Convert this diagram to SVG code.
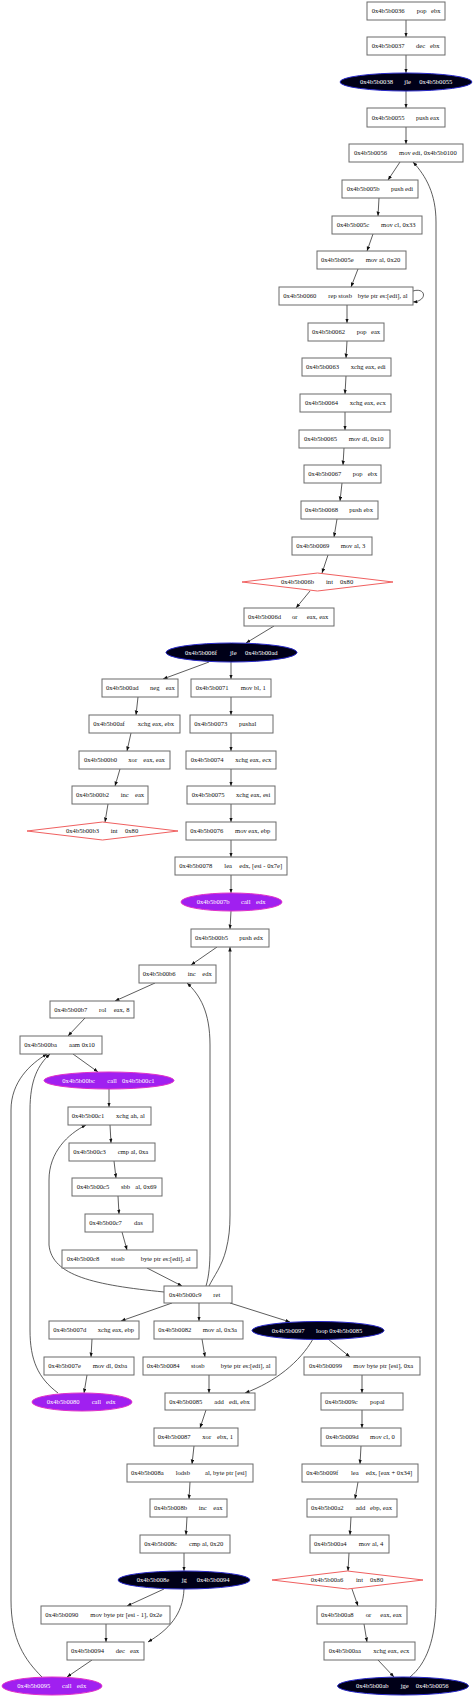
<svg xmlns="http://www.w3.org/2000/svg" width="474" height="1698" viewBox="0 0 474 1698">
<defs>
<marker id="ah" markerUnits="userSpaceOnUse" markerWidth="5" markerHeight="4" refX="4.5" refY="1.75" orient="auto">
<path d="M0,0 L4.5,1.75 L0,3.5 z" fill="#111"/>
</marker>
</defs>
<style>
rect{fill:#fff;stroke:#6a6a6a;stroke-width:1}
.dk ellipse{fill:#000018;stroke:#2828c8;stroke-width:1}
.pu ellipse{fill:#a020f0;stroke:#e030c8;stroke-width:1}
polygon{fill:#fff;stroke:#f06060;stroke-width:1}
text{font-family:"Liberation Serif","DejaVu Serif",serif;font-size:6.6px;fill:#111}
.dk text,.pu text{fill:#fff}
#edges path{fill:none;stroke:#333;stroke-width:0.8;marker-end:url(#ah)}
</style>
<rect x="0" y="0" width="474" height="1698" style="fill:#fff;stroke:none"/>
<g id="edges">
<path d="M406,20 L406,37"/>
<path d="M406,55 L406,73"/>
<path d="M406,91 L406,108"/>
<path d="M406,127 L406,144"/>
<path d="M400,162 L388,180"/>
<path d="M379,198 L378,216"/>
<path d="M373,234 L367,251"/>
<path d="M358,269 L351,287"/>
<path d="M413,291 C426,287 428,301 413,302"/>
<path d="M347,305 L347,323"/>
<path d="M347,341 L346,358"/>
<path d="M346,376 L345,394"/>
<path d="M345,412 L345,430"/>
<path d="M344,448 L343,465"/>
<path d="M342,483 L340,501"/>
<path d="M337,519 L334,537"/>
<path d="M328,555 L322,573"/>
<path d="M310,591 L296,608"/>
<path d="M274,626 L246,643"/>
<path d="M209,662 L163,679"/>
<path d="M231,662 L231,679"/>
<path d="M138,697 L136,715"/>
<path d="M231,697 L231,715"/>
<path d="M131,733 L127,751"/>
<path d="M231,733 L231,751"/>
<path d="M120,769 L115,786"/>
<path d="M231,769 L231,786"/>
<path d="M108,804 L105,822"/>
<path d="M231,804 L231,822"/>
<path d="M231,840 L231,857"/>
<path d="M231,875 L231,893"/>
<path d="M231,911 L230,929"/>
<path d="M217,947 L191,965"/>
<path d="M155,983 L115,1001"/>
<path d="M85,1018 L68,1036"/>
<path d="M73,1054 L98,1072"/>
<path d="M109,1089 L109,1107"/>
<path d="M110,1125 L111,1143"/>
<path d="M114,1161 L116,1178"/>
<path d="M118,1196 L119,1214"/>
<path d="M122,1232 L127,1250"/>
<path d="M147,1268 L182,1286"/>
<path d="M164,1292 C95,1285 52,1276 49,1245 L49,1180 C49,1152 68,1134 86,1125"/>
<path d="M206,1286 C209,1276 210,1264 210,1250 L210,1045 C210,1012 200,995 187,983"/>
<path d="M209,1286 C214,1276 222,1266 226,1250 C229,1238 230,1228 230,1215 L230,947"/>
<path d="M172,1303 L121,1321"/>
<path d="M199,1303 L199,1321"/>
<path d="M230,1303 L290,1322"/>
<path d="M313,1339 C300,1362 275,1382 245,1393"/>
<path d="M328,1339 L350,1357"/>
<path d="M92,1339 L91,1357"/>
<path d="M202,1339 L205,1357"/>
<path d="M87,1375 L84,1393"/>
<path d="M209,1375 L209,1393"/>
<path d="M362,1375 L362,1393"/>
<path d="M58,1393 C38,1378 30,1360 30,1330 L30,1110 C30,1080 38,1065 50,1054"/>
<path d="M42,1677 C25,1660 11,1640 11,1600 L11,1110 C11,1082 30,1064 47,1054"/>
<path d="M206,1410 L200,1428"/>
<path d="M362,1410 L362,1428"/>
<path d="M194,1446 L192,1464"/>
<path d="M361,1446 L360,1464"/>
<path d="M190,1482 L189,1499"/>
<path d="M358,1482 L355,1499"/>
<path d="M187,1517 L186,1535"/>
<path d="M351,1517 L350,1535"/>
<path d="M184,1553 L184,1571"/>
<path d="M349,1553 L348,1571"/>
<path d="M164,1589 L127,1606"/>
<path d="M184,1589 C183,1615 168,1630 148,1642"/>
<path d="M352,1589 L358,1606"/>
<path d="M106,1624 L106,1642"/>
<path d="M364,1624 L367,1642"/>
<path d="M92,1660 L67,1677"/>
<path d="M378,1660 L394,1677"/>
<path d="M410,1677 C426,1664 436,1640 436,1600 L436,222 C436,194 426,176 413,162"/>
</g>
<g id="n0036"><rect x="367" y="2" width="78" height="18"/><text y="13.3"><tspan x="371.7">0x4b5b0036</tspan><tspan x="416.7">pop</tspan><tspan x="431">ebx</tspan></text></g>
<g id="n0037"><rect x="367" y="37" width="78" height="18"/><text y="48.3"><tspan x="371.7">0x4b5b0037</tspan><tspan x="416">dec</tspan><tspan x="430">ebx</tspan></text></g>
<g id="n0038" class="dk"><ellipse cx="406" cy="82" rx="66" ry="9"/><text y="84.3"><tspan x="360">0x4b5b0038</tspan><tspan x="404.3">jle</tspan><tspan x="419.3">0x4b5b0055</tspan></text></g>
<g id="n0055"><rect x="367" y="108" width="78" height="19"/><text y="119.8"><tspan x="371.7">0x4b5b0055</tspan><tspan x="416">push eax</tspan></text></g>
<g id="n0056"><rect x="349" y="144" width="114" height="18"/><text y="155.3"><tspan x="354">0x4b5b0056</tspan><tspan x="399">mov edi, 0x4b5b0100</tspan></text></g>
<g id="n005b"><rect x="342" y="180" width="76" height="18"/><text y="191.3"><tspan x="346.7">0x4b5b005b</tspan><tspan x="391">push edi</tspan></text></g>
<g id="n005c"><rect x="332" y="216" width="90" height="18"/><text y="227.3"><tspan x="336.7">0x4b5b005c</tspan><tspan x="381">mov cl, 0x33</tspan></text></g>
<g id="n005e"><rect x="317" y="251" width="89" height="18"/><text y="262.3"><tspan x="321">0x4b5b005e</tspan><tspan x="365.7">mov al, 0x20</tspan></text></g>
<g id="n0060"><rect x="279" y="287" width="134" height="18"/><text y="298.3"><tspan x="283.3">0x4b5b0060</tspan><tspan x="328.3">rep stosb</tspan><tspan x="357.7">byte ptr es:[edi], al</tspan></text></g>
<g id="n0062"><rect x="308" y="323" width="76" height="18"/><text y="334.3"><tspan x="312">0x4b5b0062</tspan><tspan x="356.7">pop</tspan><tspan x="371">eax</tspan></text></g>
<g id="n0063"><rect x="302" y="358" width="89" height="18"/><text y="369.3"><tspan x="306">0x4b5b0063</tspan><tspan x="350.7">xchg eax, edi</tspan></text></g>
<g id="n0064"><rect x="300" y="394" width="91" height="18"/><text y="405.3"><tspan x="305">0x4b5b0064</tspan><tspan x="349.7">xchg eax, ecx</tspan></text></g>
<g id="n0065"><rect x="299" y="430" width="91" height="18"/><text y="441.3"><tspan x="304">0x4b5b0065</tspan><tspan x="348.7">mov dl, 0x10</tspan></text></g>
<g id="n0067"><rect x="304" y="465" width="77" height="18"/><text y="476.3"><tspan x="308.3">0x4b5b0067</tspan><tspan x="352.7">pop</tspan><tspan x="367.7">ebx</tspan></text></g>
<g id="n0068"><rect x="301" y="501" width="77" height="18"/><text y="512.3"><tspan x="305">0x4b5b0068</tspan><tspan x="349.3">push ebx</tspan></text></g>
<g id="n0069"><rect x="292" y="537" width="80" height="18"/><text y="548.3"><tspan x="296.3">0x4b5b0069</tspan><tspan x="340.7">mov al, 3</tspan></text></g>
<g id="n006b"><polygon points="242,582 317.5,573 393,582 317.5,591"/><text y="584.3"><tspan x="281">0x4b5b006b</tspan><tspan x="326">int</tspan><tspan x="340">0x80</tspan></text></g>
<g id="n006d"><rect x="244" y="608" width="90" height="18"/><text y="619.3"><tspan x="248">0x4b5b006d</tspan><tspan x="292">or</tspan><tspan x="306.7">eax, eax</tspan></text></g>
<g id="n006f" class="dk"><ellipse cx="231.5" cy="652.5" rx="65.5" ry="9.5"/><text y="654.8"><tspan x="185">0x4b5b006f</tspan><tspan x="230">jle</tspan><tspan x="245">0x4b5b00ad</tspan></text></g>
<g id="n00ad"><rect x="102" y="679" width="76" height="18"/><text y="690.3"><tspan x="106">0x4b5b00ad</tspan><tspan x="150">neg</tspan><tspan x="165.7">eax</tspan></text></g>
<g id="n0071"><rect x="191" y="679" width="80" height="18"/><text y="690.3"><tspan x="195.7">0x4b5b0071</tspan><tspan x="240.7">mov bl, 1</tspan></text></g>
<g id="n00af"><rect x="89" y="715" width="91" height="18"/><text y="726.3"><tspan x="93.3">0x4b5b00af</tspan><tspan x="137.7">xchg eax, ebx</tspan></text></g>
<g id="n0073"><rect x="190" y="715" width="83" height="18"/><text y="726.3"><tspan x="194.3">0x4b5b0073</tspan><tspan x="239">pushal</tspan></text></g>
<g id="n00b0"><rect x="79" y="751" width="91" height="18"/><text y="762.3"><tspan x="84">0x4b5b00b0</tspan><tspan x="128.3">xor</tspan><tspan x="143.3">eax, eax</tspan></text></g>
<g id="n0074"><rect x="186" y="751" width="90" height="18"/><text y="762.3"><tspan x="190.7">0x4b5b0074</tspan><tspan x="235.3">xchg eax, ecx</tspan></text></g>
<g id="n00b2"><rect x="72" y="786" width="76" height="18"/><text y="797.3"><tspan x="76">0x4b5b00b2</tspan><tspan x="120.7">inc</tspan><tspan x="135">eax</tspan></text></g>
<g id="n0075"><rect x="187" y="786" width="88" height="18"/><text y="797.3"><tspan x="191.7">0x4b5b0075</tspan><tspan x="236">xchg eax, esi</tspan></text></g>
<g id="n00b3"><polygon points="27,831 102.5,822 178,831 102.5,840"/><text y="833.3"><tspan x="66">0x4b5b00b3</tspan><tspan x="110.7">int</tspan><tspan x="125">0x80</tspan></text></g>
<g id="n0076"><rect x="186" y="822" width="90" height="18"/><text y="833.3"><tspan x="190.3">0x4b5b0076</tspan><tspan x="235">mov eax, ebp</tspan></text></g>
<g id="n0078"><rect x="175" y="857" width="112" height="18"/><text y="868.3"><tspan x="179.3">0x4b5b0078</tspan><tspan x="224.3">lea</tspan><tspan x="239.3">edx, [esi - 0x7e]</tspan></text></g>
<g id="n007b" class="pu"><ellipse cx="231.5" cy="902" rx="50.5" ry="9"/><text y="904.3"><tspan x="196.7">0x4b5b007b</tspan><tspan x="241">call</tspan><tspan x="256">edx</tspan></text></g>
<g id="n00b5"><rect x="191" y="929" width="78" height="18"/><text y="940.3"><tspan x="195">0x4b5b00b5</tspan><tspan x="239.3">push edx</tspan></text></g>
<g id="n00b6"><rect x="139" y="965" width="77" height="18"/><text y="976.3"><tspan x="142.7">0x4b5b00b6</tspan><tspan x="187.7">inc</tspan><tspan x="202.3">edx</tspan></text></g>
<g id="n00b7"><rect x="50" y="1001" width="84" height="17"/><text y="1011.8"><tspan x="54.3">0x4b5b00b7</tspan><tspan x="99">rol</tspan><tspan x="113.7">eax, 8</tspan></text></g>
<g id="n00ba"><rect x="20" y="1036" width="82" height="18"/><text y="1047.3"><tspan x="24.3">0x4b5b00ba</tspan><tspan x="69">aam 0x10</tspan></text></g>
<g id="n00bc" class="pu"><ellipse cx="109" cy="1080.5" rx="65" ry="8.5"/><text y="1082.8"><tspan x="62.3">0x4b5b00bc</tspan><tspan x="107.3">call</tspan><tspan x="122">0x4b5b00c1</tspan></text></g>
<g id="n00c1"><rect x="68" y="1107" width="83" height="18"/><text y="1118.3"><tspan x="71.7">0x4b5b00c1</tspan><tspan x="116">xchg ah, al</tspan></text></g>
<g id="n00c3"><rect x="69" y="1143" width="86" height="18"/><text y="1154.3"><tspan x="73.3">0x4b5b00c3</tspan><tspan x="117.7">cmp al, 0xa</tspan></text></g>
<g id="n00c5"><rect x="72" y="1178" width="90" height="18"/><text y="1189.3"><tspan x="76.7">0x4b5b00c5</tspan><tspan x="121">sbb</tspan><tspan x="135.3">al, 0x69</tspan></text></g>
<g id="n00c7"><rect x="85" y="1214" width="68" height="18"/><text y="1225.3"><tspan x="89.3">0x4b5b00c7</tspan><tspan x="134">das</tspan></text></g>
<g id="n00c8"><rect x="62" y="1250" width="135" height="18"/><text y="1261.3"><tspan x="66.7">0x4b5b00c8</tspan><tspan x="111">stosb</tspan><tspan x="140.7">byte ptr es:[edi], al</tspan></text></g>
<g id="n00c9"><rect x="164" y="1286" width="68" height="17"/><text y="1296.8"><tspan x="169">0x4b5b00c9</tspan><tspan x="213.3">ret</tspan></text></g>
<g id="n007d"><rect x="49" y="1321" width="90" height="18"/><text y="1332.3"><tspan x="53.3">0x4b5b007d</tspan><tspan x="97.7">xchg eax, ebp</tspan></text></g>
<g id="n0082"><rect x="154" y="1321" width="89" height="18"/><text y="1332.3"><tspan x="158.3">0x4b5b0082</tspan><tspan x="202.7">mov al, 0x3a</tspan></text></g>
<g id="n0097" class="dk"><ellipse cx="318" cy="1330.5" rx="66" ry="9"/><text y="1332.8"><tspan x="271.7">0x4b5b0097</tspan><tspan x="316">loop 0x4b5b0085</tspan></text></g>
<g id="n007e"><rect x="44" y="1357" width="90" height="18"/><text y="1368.3"><tspan x="48.3">0x4b5b007e</tspan><tspan x="92.7">mov dl, 0xba</tspan></text></g>
<g id="n0084"><rect x="143" y="1357" width="133" height="18"/><text y="1368.3"><tspan x="146.7">0x4b5b0084</tspan><tspan x="191">stosb</tspan><tspan x="220.7">byte ptr es:[edi], al</tspan></text></g>
<g id="n0099"><rect x="304" y="1357" width="116" height="18"/><text y="1368.3"><tspan x="309">0x4b5b0099</tspan><tspan x="353.3">mov byte ptr [esi], 0xa</tspan></text></g>
<g id="n0080" class="pu"><ellipse cx="82" cy="1402" rx="50" ry="9"/><text y="1404.3"><tspan x="46.7">0x4b5b0080</tspan><tspan x="91.7">call</tspan><tspan x="106">edx</tspan></text></g>
<g id="n0085"><rect x="165" y="1393" width="90" height="17"/><text y="1403.8"><tspan x="169.3">0x4b5b0085</tspan><tspan x="214.3">add</tspan><tspan x="229">edi, ebx</tspan></text></g>
<g id="n009c"><rect x="321" y="1393" width="82" height="17"/><text y="1403.8"><tspan x="325">0x4b5b009c</tspan><tspan x="370">popal</tspan></text></g>
<g id="n0087"><rect x="154" y="1428" width="84" height="18"/><text y="1439.3"><tspan x="157.7">0x4b5b0087</tspan><tspan x="202.3">xor</tspan><tspan x="217">ebx, 1</tspan></text></g>
<g id="n009d"><rect x="321" y="1428" width="80" height="18"/><text y="1439.3"><tspan x="325.7">0x4b5b009d</tspan><tspan x="370">mov cl, 0</tspan></text></g>
<g id="n008a"><rect x="127" y="1464" width="126" height="18"/><text y="1475.3"><tspan x="131">0x4b5b008a</tspan><tspan x="175.7">lodsb</tspan><tspan x="205">al, byte ptr [esi]</tspan></text></g>
<g id="n009f"><rect x="302" y="1464" width="116" height="18"/><text y="1475.3"><tspan x="306.3">0x4b5b009f</tspan><tspan x="351">lea</tspan><tspan x="365.7">edx, [eax + 0x34]</tspan></text></g>
<g id="n008b"><rect x="150" y="1499" width="77" height="18"/><text y="1510.3"><tspan x="154">0x4b5b008b</tspan><tspan x="198.7">inc</tspan><tspan x="213.3">eax</tspan></text></g>
<g id="n00a2"><rect x="307" y="1499" width="90" height="18"/><text y="1510.3"><tspan x="311">0x4b5b00a2</tspan><tspan x="355.7">add</tspan><tspan x="370">ebp, eax</tspan></text></g>
<g id="n008c"><rect x="140" y="1535" width="90" height="18"/><text y="1546.3"><tspan x="144.3">0x4b5b008c</tspan><tspan x="189">cmp al, 0x20</tspan></text></g>
<g id="n00a4"><rect x="310" y="1535" width="79" height="18"/><text y="1546.3"><tspan x="314">0x4b5b00a4</tspan><tspan x="358.7">mov al, 4</tspan></text></g>
<g id="n008e" class="dk"><ellipse cx="184" cy="1580" rx="66" ry="9"/><text y="1582.3"><tspan x="136.7">0x4b5b008e</tspan><tspan x="181.7">jg</tspan><tspan x="196.7">0x4b5b0094</tspan></text></g>
<g id="n00a6"><polygon points="272,1580 347.5,1571 423,1580 347.5,1589"/><text y="1582.3"><tspan x="310.7">0x4b5b00a6</tspan><tspan x="356">int</tspan><tspan x="370">0x80</tspan></text></g>
<g id="n0090"><rect x="41" y="1606" width="129" height="18"/><text y="1617.3"><tspan x="45.3">0x4b5b0090</tspan><tspan x="90.3">mov byte ptr [esi - 1], 0x2e</tspan></text></g>
<g id="n00a8"><rect x="317" y="1606" width="90" height="18"/><text y="1617.3"><tspan x="321">0x4b5b00a8</tspan><tspan x="365.7">or</tspan><tspan x="380.3">eax, eax</tspan></text></g>
<g id="n0094"><rect x="67" y="1642" width="77" height="18"/><text y="1653.3"><tspan x="71">0x4b5b0094</tspan><tspan x="115.7">dec</tspan><tspan x="130">eax</tspan></text></g>
<g id="n00aa"><rect x="324" y="1642" width="91" height="18"/><text y="1653.3"><tspan x="328.7">0x4b5b00aa</tspan><tspan x="373.3">xchg eax, ecx</tspan></text></g>
<g id="n0095" class="pu"><ellipse cx="52" cy="1686" rx="50" ry="9"/><text y="1688.3"><tspan x="17.3">0x4b5b0095</tspan><tspan x="62">call</tspan><tspan x="76.7">edx</tspan></text></g>
<g id="n00ab" class="dk"><ellipse cx="403" cy="1686" rx="65.5" ry="9"/><text y="1688.3"><tspan x="356">0x4b5b00ab</tspan><tspan x="400.7">jge</tspan><tspan x="415.7">0x4b5b0056</tspan></text></g>
</svg>
